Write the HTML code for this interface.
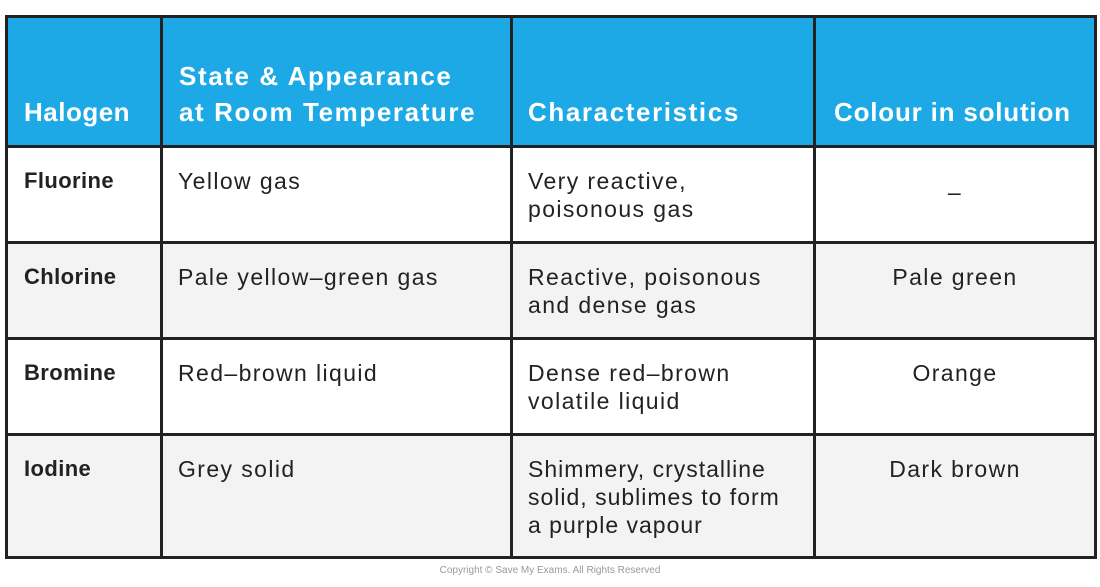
<!DOCTYPE html>
<html><head><meta charset="utf-8"><style>
body{margin:0;width:1100px;height:587px;background:#fff;position:relative;font-family:"Liberation Sans",sans-serif;overflow:hidden}
.b{position:absolute;background:#222}
.bg{position:absolute}
.t{position:absolute;font-size:23px;letter-spacing:1.4px;color:#222;line-height:28px;white-space:nowrap}
.c{left:816px;width:278px;text-align:center}
.h{position:absolute;font-size:26px;letter-spacing:1.6px;color:#fff;line-height:36px;font-weight:bold;white-space:nowrap}
</style></head><body>
<div class="bg" style="left:6px;top:16px;width:1090px;height:131px;background:#1ca9e6"></div>
<div class="bg" style="left:6px;top:242px;width:1090px;height:96px;background:#f3f3f3"></div>
<div class="bg" style="left:6px;top:434px;width:1090px;height:124px;background:#f3f3f3"></div>
<div class="b" style="left:5px;top:15px;width:1092px;height:3px"></div>
<div class="b" style="left:5px;top:145px;width:1092px;height:3px"></div>
<div class="b" style="left:5px;top:241px;width:1092px;height:3px"></div>
<div class="b" style="left:5px;top:337px;width:1092px;height:3px"></div>
<div class="b" style="left:5px;top:433px;width:1092px;height:3px"></div>
<div class="b" style="left:5px;top:556px;width:1092px;height:3px"></div>
<div class="b" style="left:5px;top:15px;width:3px;height:544px"></div>
<div class="b" style="left:160px;top:15px;width:3px;height:544px"></div>
<div class="b" style="left:510px;top:15px;width:3px;height:544px"></div>
<div class="b" style="left:813px;top:15px;width:3px;height:544px"></div>
<div class="b" style="left:1094px;top:15px;width:3px;height:544px"></div>

<div class="h" style="left:24px;top:94px;letter-spacing:0.5px">Halogen</div>
<div class="h" style="left:179px;top:58px">State &amp; Appearance<br>at Room Temperature</div>
<div class="h" style="left:528px;top:94px">Characteristics</div>
<div class="h" style="left:834px;top:94px;letter-spacing:0.8px">Colour in solution</div>

<div class="t" style="left:24px;top:167px;font-weight:bold;letter-spacing:0.4px;font-size:22px">Fluorine</div>
<div class="t" style="left:178px;top:167px">Yellow gas</div>
<div class="t" style="left:528px;top:167px">Very reactive,<br>poisonous gas</div>
<div class="t c" style="top:178px">–</div>

<div class="t" style="left:24px;top:263px;font-weight:bold;letter-spacing:0.4px;font-size:22px">Chlorine</div>
<div class="t" style="left:178px;top:263px">Pale yellow–green gas</div>
<div class="t" style="left:528px;top:263px">Reactive, poisonous<br>and dense gas</div>
<div class="t c" style="top:263px">Pale green</div>

<div class="t" style="left:24px;top:359px;font-weight:bold;letter-spacing:0.4px;font-size:22px">Bromine</div>
<div class="t" style="left:178px;top:359px">Red–brown liquid</div>
<div class="t" style="left:528px;top:359px">Dense red–brown<br>volatile liquid</div>
<div class="t c" style="top:359px">Orange</div>

<div class="t" style="left:24px;top:455px;font-weight:bold;letter-spacing:0.4px;font-size:22px">Iodine</div>
<div class="t" style="left:178px;top:455px">Grey solid</div>
<div class="t" style="left:528px;top:455px;letter-spacing:1px">Shimmery, crystalline<br>solid, sublimes to form<br>a purple vapour</div>
<div class="t c" style="top:455px">Dark brown</div>

<div style="position:absolute;left:0;width:1100px;top:565px;text-align:center;font-size:10px;color:#999">Copyright © Save My Exams. All Rights Reserved</div>
</body></html>
